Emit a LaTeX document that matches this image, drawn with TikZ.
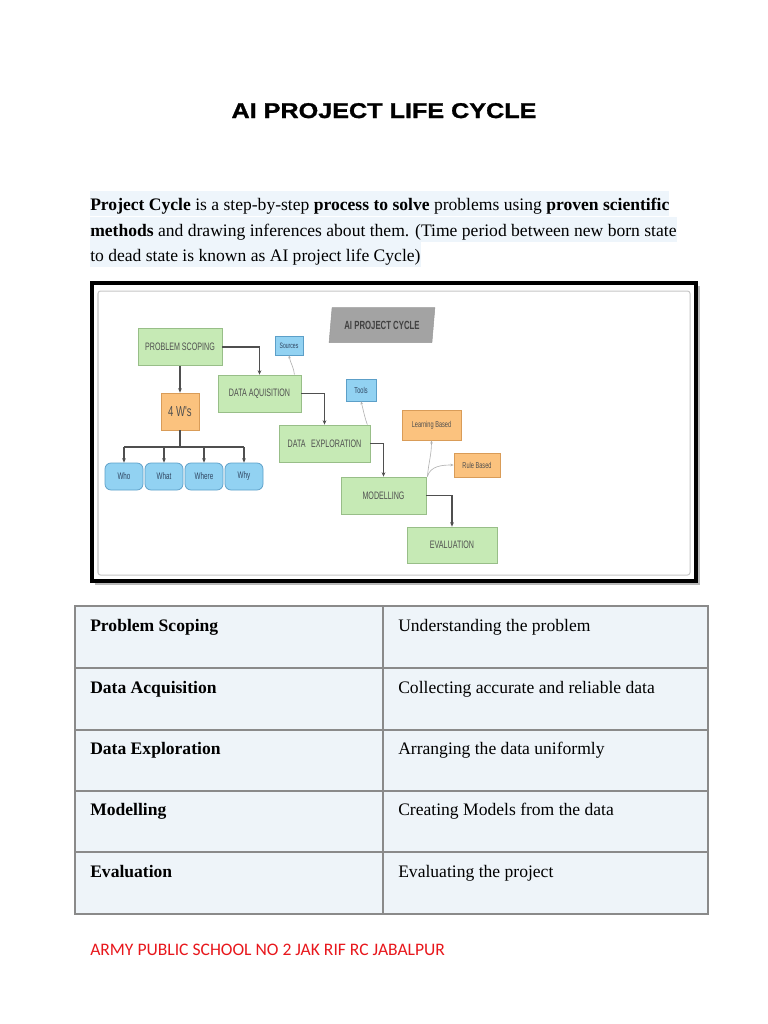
\documentclass[tikz,border=0pt]{standalone}
\usepackage{fontspec}
\setmainfont{Liberation Serif}
\newfontfamily\titlefont[FakeStretch=1.18, FakeBold=1.3]{Liberation Sans Bold}
\newfontfamily\diagfont[FakeStretch=0.66]{Liberation Sans}
\newfontfamily\footfont{Carlito}
\usetikzlibrary{arrows.meta,shapes.geometric,calc}
\definecolor{hl}{HTML}{EEF5FB}
\definecolor{gfill}{HTML}{C6EAB5}
\definecolor{gline}{HTML}{98BE88}
\definecolor{ofill}{HTML}{FBC27E}
\definecolor{oline}{HTML}{D99C58}
\definecolor{bfill}{HTML}{92D2F2}
\definecolor{bline}{HTML}{5C9FC8}
\definecolor{pfill}{HTML}{A3A3A3}
\definecolor{tfill}{HTML}{EEF4F9}
\definecolor{tline}{HTML}{8A8A8A}
\definecolor{dtext}{HTML}{4F4F4F}
\definecolor{btext}{HTML}{2F4560}
\definecolor{footred}{HTML}{E8171C}
\def\u{0.796875pt}
\tikzset{
  greenbox/.style={draw=gline, fill=gfill, line width=0.6pt, minimum width=#1*\u, minimum height=37*\u, inner sep=0pt, font=\diagfont\fontsize{8.6}{9}\selectfont, text=dtext},
  orangebox/.style={draw=oline, fill=ofill, line width=0.6pt, inner sep=0pt, text=dtext},
  bluebox/.style={draw=bline, fill=bfill, line width=0.5pt, inner sep=0pt, text=btext},
  wbox/.style={draw=bline, fill=bfill, line width=0.6pt, rounded corners=6*\u, minimum width=38*\u, minimum height=27*\u, inner sep=0pt, text=btext, font=\diagfont\fontsize{7.6}{8}\selectfont},
  conn/.style={draw=dtext, line width=1.2pt, -{Stealth[length=3.5pt,width=3pt]}},
  connline/.style={draw=dtext, line width=1.2pt},
  thinarrow/.style={draw=gray!60, line width=0.5pt, -{Stealth[length=2.5pt,width=2pt]}},
  paraline/.style={anchor=base west, fill=hl, inner sep=0pt, text height=15pt, text depth=4.5pt, font=\fontsize{14}{16}\selectfont},
  cellhead/.style={anchor=base west, inner sep=0pt, font=\fontsize{14}{16}\selectfont\bfseries},
  celltext/.style={anchor=base west, inner sep=0pt, font=\fontsize{14}{16}\selectfont},
}
\begin{document}
\begin{tikzpicture}[x=0.796875pt, y=-0.796875pt]
\useasboundingbox (0,0) rectangle (768,1024);
\fill[white] (0,0) rectangle (768,1024);

% title
\node[anchor=base, inner sep=0pt, font=\titlefont\fontsize{17}{19}\selectfont] (title) at (384,118) {AI PROJECT LIFE CYCLE};

% paragraph
\node[paraline] (p1) at (90,210) {\textbf{Project Cycle} is a step-by-step \textbf{process to solve} problems using \textbf{proven scientific}};
\node[paraline] (p2) at (90,236) {\textbf{methods} and drawing inferences about them. (Time period between new born state};
\node[paraline] (p3) at (90,261) {to dead state is known as AI project life Cycle)};

% diagram frame
\fill[gray!55] (95,286) rectangle (700,585);
\draw[black, line width=3.5pt, fill=white] (92,283) rectangle (696,581);
\draw[gray!45, line width=0.8pt, rounded corners=2pt] (98,291) rectangle (690,575);

% diagram nodes
\node[greenbox=84] (ps) at (180,347) {PROBLEM SCOPING};
\node[trapezium, trapezium left angle=75, trapezium right angle=105, trapezium stretches=true, fill=pfill, draw=gray!80, line width=0.4pt, minimum width=106*\u, minimum height=35*\u, inner sep=0pt, text=black!75, font=\diagfont\bfseries\fontsize{9.4}{10}\selectfont] (ai) at (382,325) {AI PROJECT CYCLE};
\node[bluebox, minimum width=28*\u, minimum height=19*\u, font=\diagfont\fontsize{6.2}{7}\selectfont] (src) at (289,345.5) {Sources};
\node[greenbox=83] (da) at (259.5,393.5) {DATA AQUISITION};
\node[orangebox, minimum width=38*\u, minimum height=37*\u, font=\diagfont\fontsize{11.5}{12}\selectfont] (w4) at (180,411.5) {4 W's};
\node[bluebox, minimum width=30*\u, minimum height=22*\u, font=\diagfont\fontsize{6.8}{7}\selectfont] (tools) at (361,390) {Tools};
\node[greenbox=91] (de) at (324.5,443.5) {DATA\,\, EXPLORATION};
\node[orangebox, minimum width=59*\u, minimum height=30*\u, font=\diagfont\fontsize{6.8}{7}\selectfont] (lb) at (431.5,425) {Learning Based};
\node[orangebox, minimum width=46*\u, minimum height=24*\u, font=\diagfont\fontsize{6.8}{7}\selectfont] (rb) at (477,465) {Rule Based};
\node[wbox] (who) at (124,476.5) {Who};
\node[wbox] (what) at (164,476.5) {What};
\node[wbox] (where) at (204,476.5) {Where};
\node[wbox] (why) at (244,476.5) {Why};
\node[greenbox=85] (mo) at (383.5,495.5) {MODELLING};
\node[greenbox=90, minimum height=36*\u] (ev) at (452,545) {EVALUATION};

% connectors
\draw[conn] (ps.east) -| (da.north);
\draw[conn] (ps.south) -- (w4.north);
\draw[conn] (da.east) -| (de.north);
\draw[conn] (de.east) -| (mo.north);
\draw[conn] (mo.east) -| (ev.north);
\coordinate (bar) at (180,447);
\draw[connline] (w4.south) -- (bar);
\draw[connline] (who.north |- bar) -- (why.north |- bar);
\foreach \n in {who,what,where,why} \draw[conn] (\n.north |- bar) -- (\n.north);
\draw[thinarrow] ([xshift=-7*\u]da.north east) to[out=95,in=-80] (src.south);
\draw[thinarrow] ([xshift=-3*\u]de.north east) to[out=110,in=-75] (tools.south);
\draw[thinarrow] ([xshift=1*\u]mo.north east) to[out=85,in=-90] (lb.south);
\draw[thinarrow] ([xshift=1*\u]mo.north east) to[out=75,in=180] (rb.west);

% table
\draw[tline, fill=tfill, line width=1.4pt] (75,606) rectangle (708,914);
\foreach \yy in {668,730,791,852} \draw[tline, line width=1.4pt] (75,\yy) -- (708,\yy);
\draw[tline, line width=1.4pt] (383,606) -- (383,914);
\node[cellhead] (h1) at (90,631) {Problem Scoping};
\node[celltext] (t1) at (398,631) {Understanding the problem};
\node[cellhead] (h2) at (90,693) {Data Acquisition};
\node[celltext] (t2) at (398,693) {Collecting accurate and reliable data};
\node[cellhead] (h3) at (90,754) {Data Exploration};
\node[celltext] (t3) at (398,754) {Arranging the data uniformly};
\node[cellhead] (h4) at (90,815) {Modelling};
\node[celltext] (t4) at (398,815) {Creating Models from the data};
\node[cellhead] (h5) at (90,877) {Evaluation};
\node[celltext] (t5) at (398,877) {Evaluating the project};

% footer
\node[anchor=base west, inner sep=0pt, text=footred, font=\footfont\fontsize{14}{16}\selectfont] (foot) at (90,955) {ARMY PUBLIC SCHOOL NO 2 JAK RIF RC JABALPUR};
\end{tikzpicture}
\end{document}
